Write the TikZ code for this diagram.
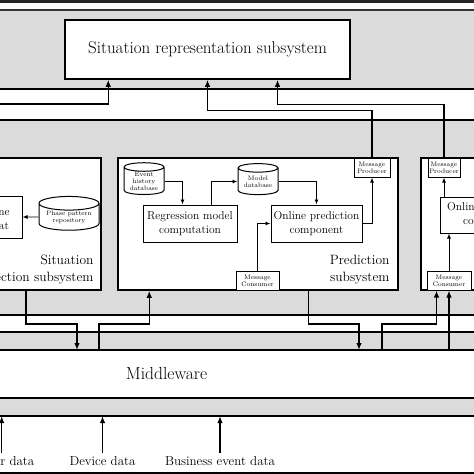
\documentclass[tikz,border=0pt]{standalone}
\usetikzlibrary{arrows.meta,shapes.geometric,calc}

\begin{document}
\begin{tikzpicture}[x=1pt,y=-1pt,>={Latex[length=7pt,width=5.5pt]},
  every node/.style={text=black},
  box/.style={draw,line width=1.5pt,fill=white},
  mbox/.style={draw,line width=1pt,fill=white,align=center,inner sep=1pt,
               font=\fontsize{11.5}{14}\selectfont},
  sbox/.style={draw,line width=1pt,fill=white,align=center,inner sep=1pt,
               font=\fontsize{6.5}{7}\selectfont},
  db/.style={cylinder,shape border rotate=90,shape aspect=0.3,draw,line width=1pt,
             fill=white,align=center,inner sep=0pt,font=\fontsize{6.5}{7}\selectfont},
  arr/.style={->,line width=1.4pt},
  arrin/.style={->,line width=0.9pt,>={Latex[length=5pt,width=4pt]}},
  band/.style={fill=black!14}]
\useasboundingbox (0,0) rectangle (474,474);
\clip (0,0) rectangle (474,474);

% layers
\fill[band] (0,10) rectangle (474,89);
\fill[band] (0,120) rectangle (474,315);
\fill[band] (0,332) rectangle (474,350);
\fill[band] (0,398) rectangle (474,416);
\foreach \y in {89,120,315,332,350,398,416}{
  \draw[line width=1.5pt] (0,\y) -- (474,\y);
}
\draw[line width=3pt,black!85] (0,1) -- (474,1);
\draw[line width=2.5pt,black!80] (0,9.8) -- (474,9.8);
\draw[line width=3pt] (0,473) -- (474,473);
\coordinate (mwtop) at (0,350);
\coordinate (inbot) at (0,416);

% situation representation
\node[box,minimum width=285,minimum height=59,font=\fontsize{17}{20}\selectfont]
  (srs) at (207.5,49.5) {Situation representation subsystem};

% situation detection
\node[box,minimum width=150,minimum height=132] (det) at (26,224) {};
\node[mbox,minimum width=84,minimum height=42] (olb) at (-20,217) {};
\node[font=\fontsize{11.5}{14}\selectfont,align=center] (olbtxt) at (4,220) {ne\\at};
\node[db,minimum width=60,minimum height=32] (ppr) at (69,217) {Phase pattern\\repository};
\draw[arrin] (ppr) -- (olb);
\node[font=\fontsize{13.5}{17}\selectfont,align=right,anchor=north east]
  (detl) at (97,251) {Situation\\detection subsystem};

% prediction
\node[box,minimum width=280,minimum height=132] (pred) at (258,224) {};
\node[db,minimum width=40,minimum height=30] (ehdb) at (144,181) {Event\\history\\database};
\node[mbox,minimum width=94,minimum height=37] (reg) at (190,223.5) {Regression model\\computation};
\node[db,minimum width=40,minimum height=31] (mdb) at (258,181.5) {Model\\database};
\node[mbox,minimum width=91,minimum height=37] (opc) at (316.5,223.5) {Online prediction\\component};
\node[sbox,minimum width=36,minimum height=19] (pprod) at (372,167.5) {Message\\Producer};
\node[sbox,minimum width=43,minimum height=19] (pcons) at (257.5,280.5) {Message\\Consumer};
\node[font=\fontsize{13.5}{17}\selectfont,align=right,anchor=north east]
  (predl) at (393,252) {Prediction\\subsystem};
\draw[arrin] (ehdb.east) -| ($(reg.north west)+(40,0)$);
\draw[arrin] ($(reg.north west)+(69,0)$) |- (mdb.west);
\draw[arrin] (mdb.east) -| (opc.north);
\draw[arrin] (opc.east) -| (pprod.south);
\draw[arrin] (pcons.north) |- (opc.west);

% third subsystem (cut off)
\node[box,minimum width=110,minimum height=132] (rsub) at (476,224) {};
\node[sbox,minimum width=32,minimum height=19] (rprod) at (444,167.5) {Message\\Producer};
\node[sbox,minimum width=44,minimum height=19] (rcons) at (449,280.5) {Message\\Consumer};
\node[mbox,minimum width=100,minimum height=36] (ronl) at (490,215) {Online prediction\\component};
\draw[arrin] (rcons.north) -- (rcons.north |- ronl.south);
\draw[arrin] (rprod.south |- ronl.north) -- (rprod.south);

% into representation
\coordinate (lin) at (0,104);
\draw[arr] (lin) -| ($(srs.south west)+(44,0)$);
\draw[arr] (pprod.north) |- ($(srs.south)+(0,31)$) -- (srs.south);
\draw[arr] (rprod.north) |- ($(srs.south)+(70,25)$) -- ($(srs.south)+(70,0)$);

% middleware links
\coordinate (k1) at (77,324);
\coordinate (k2) at (99,324);
\coordinate (k4) at (359,324);
\coordinate (k5) at (382,324);
\draw[arr] (det.south) |- (k1) -- (k1 |- mwtop);
\draw[arr] (k2 |- mwtop) -- (k2) -| ($(pred.south west)+(32,0)$);
\draw[arr] ($(pred.south west)+(191,0)$) |- (k4) -- (k4 |- mwtop);
\draw[arr] (k5 |- mwtop) -- (k5) -| ($(rcons.south west)+(10,0)$);
\draw[arr] (rcons.south |- mwtop) -- (rcons.south);
\node[font=\fontsize{17.5}{20}\selectfont] (mw) at (166.5,373) {Middleware};

% inputs
\node[font=\fontsize{13}{15}\selectfont] (sens) at (1.7,461) {Sensor data};
\node[font=\fontsize{13}{15}\selectfont] (dev) at (102.5,461) {Device data};
\node[font=\fontsize{13}{15}\selectfont] (bev) at (220,461) {Business event data};
\foreach \n in {sens,dev,bev}{
  \draw[arr] (\n.north) -- (\n.north |- inbot);
}
\end{tikzpicture}
\end{document}
